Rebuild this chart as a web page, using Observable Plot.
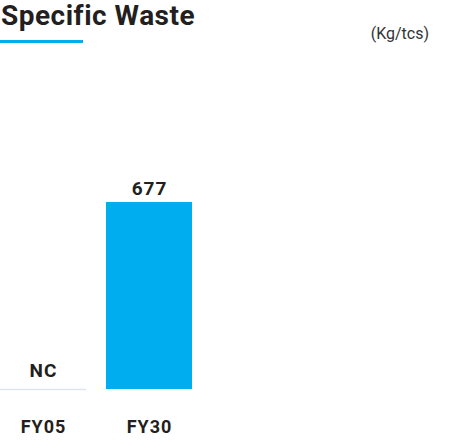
<!DOCTYPE html>
<html>
<head>
<meta charset="utf-8">
<script src="https://cdn.jsdelivr.net/npm/d3@7"></script>
<script src="https://cdn.jsdelivr.net/npm/@observablehq/plot@0.6"></script>
<style>
  html, body { margin: 0; padding: 0; background: #fff; }
  #wrap { position: relative; width: 450px; height: 445px; font-family: Roboto, sans-serif; color: #231f20; }
  #title { position: absolute; left: 1px; top: 0px; font-size: 28px; line-height: 32px; font-weight: 700; letter-spacing: 0.5px; white-space: nowrap; }
  #rule { position: absolute; left: 0; top: 40px; width: 83px; height: 3px; background: #00aeef; }
  #unit { position: absolute; right: 21px; top: 24px; font-size: 16px; font-weight: 400; color: #333; }
  #chart { position: absolute; left: 0; top: 0; }
</style>
</head>
<body>
<div id="wrap">
  <div id="chart"></div>
  <div id="title">Specific Waste</div>
  <div id="rule"></div>
  <div id="unit">(Kg/tcs)</div>
</div>
<script>
const categories = ["FY05", "FY30"];
const values = [null, 677];
const valueLabels = ["NC", "677"];

const data = categories.map((c, i) => ({cat: c, value: values[i], label: valueLabels[i]}));
const missing = data.filter(d => d.value == null);
const present = data.filter(d => d.value != null);

const chart = Plot.plot({
  width: 450,
  height: 445,
  marginTop: 0,
  marginBottom: 0,
  marginLeft: 0,
  marginRight: 0,
  style: {fontFamily: "Roboto, sans-serif", background: "transparent"},
  x: {domain: categories, range: [0, 192], paddingInner: 0.189, paddingOuter: 0, axis: null},
  y: {domain: [0, 677], range: [389, 202], axis: null},
  marks: [
    Plot.tickY(missing, {x: "cat", y: () => 0, stroke: "#dde6ee", strokeWidth: 1.5}),
    Plot.barY(present, {x: "cat", y: "value", fill: "#00aeef"}),
    Plot.text(present, {
      x: "cat", y: "value", text: "label",
      dy: -14, fontSize: 19, fontWeight: 700, fill: "#231f20"
    }),
    Plot.text(missing, {
      x: "cat", y: () => 0, text: "label",
      dy: -19, fontSize: 19, fontWeight: 700, fill: "#231f20"
    }),
    Plot.text(data, {
      x: "cat", y: () => 0, text: "cat",
      dy: 38, fontSize: 18, fontWeight: 700, fill: "#231f20"
    })
  ]
});
chart.querySelectorAll("text").forEach(t => t.style.letterSpacing = "1px");
document.getElementById("chart").appendChild(chart);
</script>
</body>
</html>
